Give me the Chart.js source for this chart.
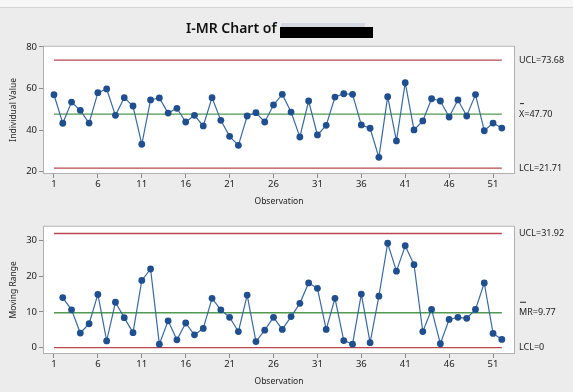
<!DOCTYPE html>
<html>
<head>
<meta charset="utf-8">
<script src="https://cdn.jsdelivr.net/npm/chart.js@4"></script>
<style>
  body { margin: 0; width: 573px; height: 392px; background: #ececec; position: relative; overflow: hidden; }
  #strip { position: absolute; left: 0; top: 0; width: 573px; height: 7px; background: #f7f7f7; border-bottom: 1px solid #d6d6d6; }
  canvas { position: absolute; left: 0; }
  #individual { top: 0; }
  #movingRange { top: 212px; }
</style>
</head>
<body>
<div id="strip"></div>
<canvas id="individual" width="573" height="212"></canvas>
<canvas id="movingRange" width="573" height="180"></canvas>
<script>
const observations = [1,2,3,4,5,6,7,8,9,10,11,12,13,14,15,16,17,18,19,20,21,22,23,24,25,26,
  27,28,29,30,31,32,33,34,35,36,37,38,39,40,41,42,43,44,45,46,47,48,49,50,51,52];
const individual = [57.0, 43.3, 53.5, 49.5, 43.4, 58.0, 59.8, 47.1, 55.6, 51.6, 33.2, 54.5, 55.5,
  48.2, 50.5, 43.9, 47.1, 42.0, 55.6, 44.7, 37.0, 32.7, 46.8, 48.4, 43.9, 52.1, 57.2, 48.7, 36.7,
  54.0, 37.7, 42.3, 55.9, 57.5, 57.2, 42.5, 40.9, 26.9, 56.1, 34.8, 62.8, 40.1, 44.4, 55.1, 54.0,
  46.3, 54.5, 46.8, 57.1, 39.7, 43.4, 41.0];
// moving range starts at observation 2
const movingRange = [14.0, 10.6, 4.1, 6.7, 14.9, 1.9, 12.7, 8.4, 4.2, 18.8, 22.0, 1.0, 7.5, 2.2,
  6.9, 3.6, 5.4, 13.8, 10.6, 8.5, 4.5, 14.7, 1.7, 4.9, 8.5, 5.1, 8.7, 12.4, 18.1, 16.6, 5.1, 13.8,
  2.0, 1.0, 15.0, 1.4, 14.4, 29.2, 21.4, 28.5, 23.2, 4.5, 10.7, 1.1, 7.9, 8.5, 8.2, 10.7, 18.1,
  4.0, 2.3];
const iUCL = 73.68, iCL = 47.70, iLCL = 21.71;
const mrUCL = 31.92, mrCL = 9.77, mrLCL = 0;
const xTicks = [1, 6, 11, 16, 21, 26, 31, 36, 41, 46, 51];
const iTicks = [20, 40, 60, 80];
const mrTicks = [0, 10, 20, 30];

const font = "'Noto Sans', sans-serif";
const blue = '#1f4f8e';
const red = '#b8474f';
const green = '#4f9a4f';

function limitLine(value, color) {
  return {
    data: [{ x: observations[0], y: value }, { x: observations[observations.length - 1], y: value }],
    borderColor: color, borderWidth: 1.3, pointRadius: 0, order: 2
  };
}

const framePlugin = {
  id: 'frame',
  beforeDraw(chart) {
    const a = chart.chartArea, c = chart.ctx;
    c.save();
    c.fillStyle = '#ffffff';
    c.fillRect(a.left, a.top, a.right - a.left, a.bottom - a.top);
    c.restore();
  },
  afterDraw(chart) {
    const a = chart.chartArea, c = chart.ctx;
    c.save();
    c.strokeStyle = '#b0b0b0';
    c.lineWidth = 1;
    c.strokeRect(a.left + 0.5, a.top + 0.5, a.right - a.left - 1, a.bottom - a.top - 1);
    c.restore();
  }
};

function limitLabels(labels) {
  return {
    id: 'limitLabels',
    afterDraw(chart) {
      const c = chart.ctx, y = chart.scales.y, x0 = chart.chartArea.right + 4;
      c.save();
      c.font = '9px ' + font;
      c.fillStyle = '#222';
      c.textBaseline = 'middle';
      c.textAlign = 'left';
      labels.forEach(l => {
        const py = y.getPixelForValue(l.value);
        c.fillText(l.text, x0, py);
        if (l.bar) {
          c.fillRect(x0 + 1, py - 11, l.bar, 1);
        }
      });
      c.restore();
    }
  };
}

const titlePlugin = {
  id: 'mainTitle',
  afterDraw(chart) {
    const c = chart.ctx;
    c.save();
    c.font = '600 14px ' + font;
    c.fillStyle = '#111';
    c.textBaseline = 'alphabetic';
    c.textAlign = 'left';
    c.fillText('I-MR Chart of', 186, 33);
    // redacted part of the title
    c.fillStyle = '#d3d8e2';
    c.fillRect(281, 23, 84, 5);
    c.fillStyle = '#000';
    c.fillRect(280, 27, 93, 11);
    c.restore();
  }
};

function makeChart(id, values, startObs, limits, yMin, yMax, yTicks, yTitle, padTop, extraPlugins) {
  const pts = values.map((v, i) => ({ x: observations[i + startObs - 1], y: v }));
  return new Chart(document.getElementById(id), {
    type: 'line',
    data: {
      datasets: [
        {
          data: pts,
          borderColor: '#3a6aa3',
          borderWidth: 1.2,
          backgroundColor: blue,
          pointBackgroundColor: blue,
          pointBorderColor: blue,
          pointRadius: 3.4,
          pointBorderWidth: 0,
          tension: 0,
          order: 1
        },
        limitLine(limits[0], red),
        limitLine(limits[1], green),
        limitLine(limits[2], red)
      ]
    },
    options: {
      responsive: false,
      animation: false,
      devicePixelRatio: 1,
      layout: { padding: { top: padTop, right: 58, left: 0, bottom: 0 } },
      plugins: { legend: { display: false }, tooltip: { enabled: false } },
      scales: {
        x: {
          type: 'linear',
          min: -0.25,
          max: 53.5,
          afterBuildTicks: s => { s.ticks = xTicks.map(v => ({ value: v })); },
          afterFit: s => { s.height = 38; },
          grid: { drawOnChartArea: false, drawTicks: true, tickLength: 4, color: '#8a8a8a' },
          border: { display: false },
          ticks: { font: { family: font, size: 9.5 }, color: '#222', padding: 1, maxRotation: 0 },
          title: { display: true, text: 'Observation', font: { family: font, size: 8.5 }, color: '#222',
                   padding: { top: 0, bottom: 5 } }
        },
        y: {
          min: yMin,
          max: yMax,
          afterBuildTicks: s => { s.ticks = yTicks.map(v => ({ value: v })); },
          afterFit: s => { s.width = 43; },
          grid: { drawOnChartArea: false, drawTicks: true, tickLength: 4, color: '#8a8a8a' },
          border: { display: false },
          ticks: { font: { family: font, size: 9.5 }, color: '#222', padding: 2 },
          title: { display: true, text: yTitle, font: { family: font, size: 8.5 }, color: '#222',
                   padding: { top: 8, bottom: 0 } }
        }
      }
    },
    plugins: [framePlugin].concat(extraPlugins)
  });
}

makeChart('individual', individual, 1, [iUCL, iCL, iLCL], 18.9, 80.6, iTicks, 'Individual Value', 45.7, [
  titlePlugin,
  limitLabels([
    { value: iUCL, text: 'UCL=' + iUCL.toFixed(2) },
    { value: iCL, text: 'X=' + iCL.toFixed(2), bar: 4 },
    { value: iLCL, text: 'LCL=' + iLCL.toFixed(2) }
  ])
]);

makeChart('movingRange', movingRange, 2, [mrUCL, mrCL, mrLCL], -1.76, 34.1, mrTicks, 'Moving Range', 13.7, [
  limitLabels([
    { value: mrUCL, text: 'UCL=' + mrUCL.toFixed(2) },
    { value: mrCL, text: 'MR=' + mrCL.toFixed(2), bar: 6 },
    { value: mrLCL, text: 'LCL=' + mrLCL }
  ])
]);
</script>
</body>
</html>
